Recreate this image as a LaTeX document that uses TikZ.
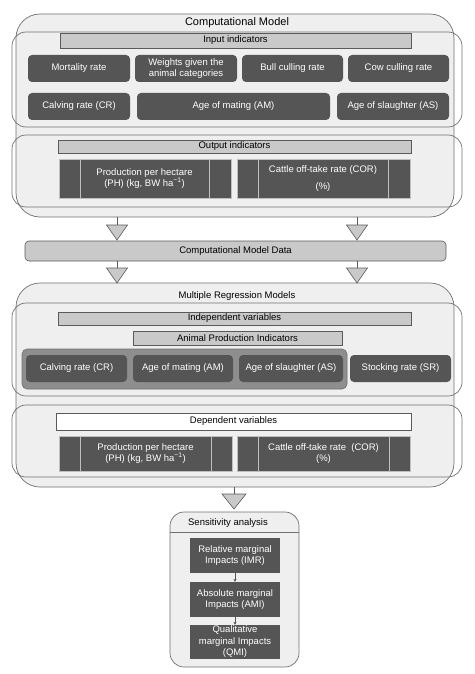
\documentclass[tikz,border=0pt]{standalone}
\usepackage{fontspec}
\setmainfont{Liberation Sans}
\usetikzlibrary{calc,arrows.meta}
\definecolor{darkfill}{HTML}{555555}
\definecolor{lightfill}{HTML}{EFEFEF}
\definecolor{barfill}{HTML}{C9C9C9}
\definecolor{groupfill}{HTML}{8E8E8E}
\definecolor{edge}{HTML}{707070}
\newcommand\bxn[7]{\node[#1, minimum width={(#5-#3)*1pt}, minimum height={(#6-#4)*1pt}, inner sep=0pt] (#2) at ({(#3+#5)/2},{(#4+#6)/2}) {#7};}
\tikzset{
  every node/.style={font=\fontsize{9.5}{11.5}\selectfont, align=center},
  outerbox/.style={rectangle, rounded corners=24pt, draw=edge, line width=0.7pt, fill=lightfill},
  innerbox/.style={rectangle, rounded corners=14pt, draw=edge, line width=0.7pt},
  darkbox/.style={rectangle, rounded corners=4pt, fill=darkfill, text=white},
  cellbox/.style={rectangle, fill=darkfill, draw=white!75!black, line width=0.6pt, text=white},
  barbox/.style={rectangle, fill=barfill, draw=edge!80!black, line width=0.6pt},
  whitebar/.style={rectangle, fill=white, draw=edge!80!black, line width=0.6pt},
  groupbox/.style={rectangle, rounded corners=5pt, fill=groupfill, draw=edge, line width=0.6pt},
  sabox/.style={rectangle, fill=darkfill, text=white},
  tri/.style={fill=barfill, draw=edge!80!black, line width=0.6pt},
  stem/.style={draw=edge!80!black, line width=0.7pt},
  smallarrow/.style={draw=darkfill, line width=0.6pt, -{Stealth[length=3pt,width=3pt]}}
}
\begin{document}
\begin{tikzpicture}[x=1pt,y=-1pt]
\useasboundingbox (0,0) rectangle (474,674);
% ---------- Computational model ----------
\bxn{outerbox}{cm}{16}{14}{454}{217}{}
\node[font=\fontsize{11}{13}\selectfont] (cmtitle) at (237,23) {Computational Model};
\bxn{innerbox}{inbox}{12}{32}{462}{127}{}
\bxn{barbox}{inbar}{60}{33}{411}{48}{Input indicators}
\bxn{darkbox}{mort}{28}{55}{130}{82}{Mortality rate}
\bxn{darkbox}{weights}{135}{55}{237}{82}{Weights given the\\animal categories}
\bxn{darkbox}{bull}{242}{55}{343}{82}{Bull culling rate}
\bxn{darkbox}{cow}{348}{55}{449}{82}{Cow culling rate}
\bxn{darkbox}{cr1}{28}{93}{130}{120}{Calving rate (CR)}
\bxn{darkbox}{am1}{137}{93}{330}{120}{Age of mating (AM)}
\bxn{darkbox}{as1}{337}{93}{449}{120}{Age of slaughter (AS)}
\bxn{innerbox}{outbox}{12}{135}{462}{207}{}
\bxn{barbox}{outbar}{58}{140}{411}{153}{Output indicators}
\bxn{cellbox}{ph1l}{59}{159}{80}{198}{}
\bxn{cellbox}{ph1}{80}{159}{209}{198}{Production per hectare\\(PH) (kg, BW ha\textsuperscript{\char"2212 1})}
\bxn{cellbox}{ph1r}{209}{159}{231}{198}{}
\bxn{cellbox}{cor1l}{237}{159}{258}{198}{}
\bxn{cellbox}{cor1}{258}{159}{388}{198}{Cattle off-take rate (COR)\\[5pt](\%)}
\bxn{cellbox}{cor1r}{388}{159}{410}{198}{}
% ---------- arrows 1 ----------
\coordinate (a1) at (117,225);
\coordinate (a2) at (357,225);
\draw[stem] (cm.south -| a1) -- (a1);
\draw[stem] (cm.south -| a2) -- (a2);
\draw[tri] ($(a1)+(-10.5,0)$) -- ($(a1)+(10.5,0)$) -- ($(a1)+(0,15)$) -- cycle;
\draw[tri] ($(a2)+(-10.5,0)$) -- ($(a2)+(10.5,0)$) -- ($(a2)+(0,15)$) -- cycle;
% ---------- data bar ----------
\bxn{barbox,rounded corners=4pt}{cmd}{25}{241}{446}{261}{Computational Model Data}
\coordinate (b1) at (117,268);
\coordinate (b2) at (357,268);
\draw[stem] (cmd.south -| b1) -- (b1);
\draw[stem] (cmd.south -| b2) -- (b2);
% ---------- Multiple regression ----------
\bxn{outerbox}{mrm}{16}{283}{454}{487}{}
\draw[tri] ($(b1)+(-10.5,0)$) -- ($(b1)+(10.5,0)$) -- ($(b1)+(0,15)$) -- cycle;
\draw[tri] ($(b2)+(-10.5,0)$) -- ($(b2)+(10.5,0)$) -- ($(b2)+(0,15)$) -- cycle;
\node (mrmtitle) at (237,296) {Multiple Regression Models};
\bxn{innerbox}{indbox}{12}{303}{462}{396}{}
\bxn{barbox}{indbar}{58}{312}{411}{325}{Independent variables}
\bxn{barbox}{apibar}{133}{331}{342}{345}{Animal Production Indicators}
\bxn{groupbox}{grp}{22}{349}{347}{389}{}
\bxn{darkbox}{cr2}{26}{355}{127}{382}{Calving rate (CR)}
\bxn{darkbox}{am2}{133}{355}{233}{382}{Age of mating (AM)}
\bxn{darkbox}{as2}{239}{355}{343}{382}{Age of slaughter (AS)}
\bxn{darkbox}{sr}{350}{355}{451}{382}{Stocking rate (SR)}
\bxn{innerbox}{depbox}{12}{405}{462}{477}{}
\bxn{whitebar}{depbar}{56}{413}{411}{430}{Dependent variables}
\bxn{cellbox}{ph2l}{59}{436}{80}{471}{}
\bxn{cellbox}{ph2}{80}{436}{211}{471}{Production per hectare\\(PH) (kg, BW ha\textsuperscript{\char"2212 1})}
\bxn{cellbox}{ph2r}{211}{436}{232}{471}{}
\bxn{cellbox}{cor2l}{237}{436}{258}{471}{}
\bxn{cellbox}{cor2}{258}{436}{389}{471}{Cattle off-take rate\ \ (COR)\\(\%)}
\bxn{cellbox}{cor2r}{389}{436}{410}{471}{}
% ---------- arrow 3 ----------
\coordinate (c1) at (234,494);
\draw[stem] (mrm.south -| c1) -- (c1);
\draw[tri] ($(c1)+(-12,0)$) -- ($(c1)+(12,0)$) -- ($(c1)+(0,15)$) -- cycle;
% ---------- Sensitivity analysis ----------
\bxn{outerbox,rounded corners=14pt}{sa}{170}{512}{299}{667}{}
\coordinate (sal) at (170,532);
\coordinate (sar) at (299,532);
\draw[draw=edge, line width=0.6pt] (sal) -- (sar);
\node (satitle) at (228,523) {Sensitivity analysis};
\bxn{sabox}{imr}{190}{538}{280}{573}{Relative marginal\\Impacts (IMR)}
\bxn{sabox}{ami}{190}{582}{280}{617}{Absolute marginal\\Impacts (AMI)}
\bxn{sabox}{qmi}{190}{625}{280}{659}{Qualitative\\marginal Impacts\\(QMI)}
\draw[smallarrow] (imr.south) -- (ami.north);
\draw[smallarrow] (ami.south) -- (qmi.north);
\end{tikzpicture}
\end{document}
